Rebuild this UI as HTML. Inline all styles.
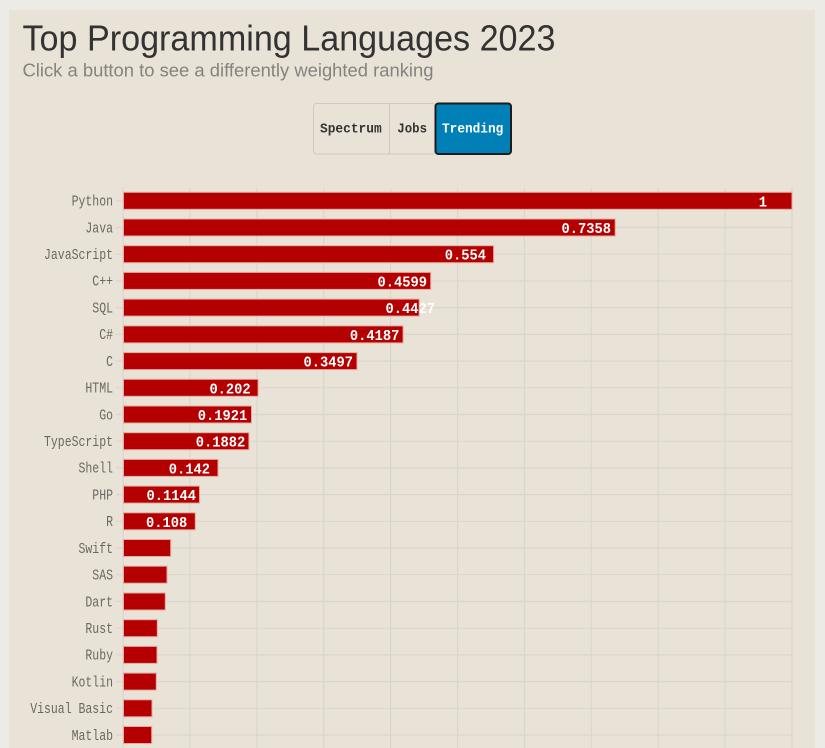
<!DOCTYPE html>
<html><head><meta charset="utf-8"><style>
html,body{margin:0;padding:0;background:#ecebe6;width:825px;height:748px;overflow:hidden}
svg{display:block}
</style></head><body>
<svg width="825" height="748" viewBox="0 0 825 748" xmlns="http://www.w3.org/2000/svg">
<rect x="0" y="0" width="825" height="748" fill="#ecebe6"/>
<rect x="9" y="10" width="806" height="740" fill="#e9e2d7"/>
<text x="22.5" y="50.5" font-family="Liberation Sans, sans-serif" font-size="36" fill="#333" textLength="533" lengthAdjust="spacingAndGlyphs">Top Programming Languages 2023</text>
<text x="22.5" y="76.5" font-family="Liberation Sans, sans-serif" font-size="18.5" fill="#858380" textLength="411" lengthAdjust="spacingAndGlyphs">Click a button to see a differently weighted ranking</text>
<rect x="313.5" y="103.5" width="122" height="50.5" rx="3" fill="#e9e2d7" stroke="#cfc8bc" stroke-width="1"/>
<line x1="389.5" y1="104" x2="389.5" y2="153.5" stroke="#cfc8bc" stroke-width="1"/>
<rect x="435.5" y="103.5" width="75.5" height="50.5" rx="3" fill="#0080b6" stroke="#1c1c1c" stroke-width="2"/>
<g font-family="Liberation Mono, monospace" font-weight="bold" font-size="13.5">
<text x="320" y="132.5" fill="#333" textLength="61.7" lengthAdjust="spacingAndGlyphs">Spectrum</text>
<text x="397.3" y="132.5" fill="#333" textLength="29.7" lengthAdjust="spacingAndGlyphs">Jobs</text>
<text x="442" y="132.5" fill="#fff" textLength="61.3" lengthAdjust="spacingAndGlyphs">Trending</text>
</g>
<g stroke="#dad6ce" stroke-width="1.2">
<line x1="123" y1="188" x2="123" y2="748"/>
<line x1="189.9" y1="188" x2="189.9" y2="748"/>
<line x1="256.8" y1="188" x2="256.8" y2="748"/>
<line x1="323.7" y1="188" x2="323.7" y2="748"/>
<line x1="390.6" y1="188" x2="390.6" y2="748"/>
<line x1="457.5" y1="188" x2="457.5" y2="748"/>
<line x1="524.4" y1="188" x2="524.4" y2="748"/>
<line x1="591.3" y1="188" x2="591.3" y2="748"/>
<line x1="658.2" y1="188" x2="658.2" y2="748"/>
<line x1="725.1" y1="188" x2="725.1" y2="748"/>
<line x1="792" y1="188" x2="792" y2="748"/>
<line x1="116" y1="200.8" x2="792" y2="200.8"/>
<line x1="116" y1="227.5" x2="792" y2="227.5"/>
<line x1="116" y1="254.2" x2="792" y2="254.2"/>
<line x1="116" y1="280.9" x2="792" y2="280.9"/>
<line x1="116" y1="307.6" x2="792" y2="307.6"/>
<line x1="116" y1="334.4" x2="792" y2="334.4"/>
<line x1="116" y1="361.1" x2="792" y2="361.1"/>
<line x1="116" y1="387.8" x2="792" y2="387.8"/>
<line x1="116" y1="414.5" x2="792" y2="414.5"/>
<line x1="116" y1="441.2" x2="792" y2="441.2"/>
<line x1="116" y1="467.9" x2="792" y2="467.9"/>
<line x1="116" y1="494.6" x2="792" y2="494.6"/>
<line x1="116" y1="521.3" x2="792" y2="521.3"/>
<line x1="116" y1="548.0" x2="792" y2="548.0"/>
<line x1="116" y1="574.7" x2="792" y2="574.7"/>
<line x1="116" y1="601.5" x2="792" y2="601.5"/>
<line x1="116" y1="628.2" x2="792" y2="628.2"/>
<line x1="116" y1="654.9" x2="792" y2="654.9"/>
<line x1="116" y1="681.6" x2="792" y2="681.6"/>
<line x1="116" y1="708.3" x2="792" y2="708.3"/>
<line x1="116" y1="735.0" x2="792" y2="735.0"/>
</g>
<g fill="#b40000" stroke="#e7a9a0" stroke-width="1">
<rect x="123.5" y="192.3" width="668.5" height="17"/>
<rect x="123.5" y="219.0" width="491.7" height="17"/>
<rect x="123.5" y="245.7" width="370.1" height="17"/>
<rect x="123.5" y="272.4" width="307.2" height="17"/>
<rect x="123.5" y="299.1" width="295.7" height="17"/>
<rect x="123.5" y="325.9" width="279.6" height="17"/>
<rect x="123.5" y="352.6" width="233.5" height="17"/>
<rect x="123.5" y="379.3" width="134.6" height="17"/>
<rect x="123.5" y="406.0" width="128.0" height="17"/>
<rect x="123.5" y="432.7" width="125.4" height="17"/>
<rect x="123.5" y="459.4" width="94.5" height="17"/>
<rect x="123.5" y="486.1" width="76.0" height="17"/>
<rect x="123.5" y="512.8" width="71.8" height="17"/>
<rect x="123.5" y="539.5" width="47.2" height="17"/>
<rect x="123.5" y="566.2" width="43.5" height="17"/>
<rect x="123.5" y="593.0" width="41.8" height="17"/>
<rect x="123.5" y="619.7" width="33.8" height="17"/>
<rect x="123.5" y="646.4" width="33.5" height="17"/>
<rect x="123.5" y="673.1" width="32.8" height="17"/>
<rect x="123.5" y="699.8" width="28.5" height="17"/>
<rect x="123.5" y="726.5" width="28.2" height="17"/>
</g>
<g font-family="Liberation Mono, monospace" font-size="14.5" fill="#6b6862" text-anchor="end">
<text x="113" y="205.6" textLength="41.4" lengthAdjust="spacingAndGlyphs">Python</text>
<text x="113" y="232.3" textLength="27.6" lengthAdjust="spacingAndGlyphs">Java</text>
<text x="113" y="259.0" textLength="69" lengthAdjust="spacingAndGlyphs">JavaScript</text>
<text x="113" y="285.7" textLength="20.7" lengthAdjust="spacingAndGlyphs">C++</text>
<text x="113" y="312.4" textLength="20.7" lengthAdjust="spacingAndGlyphs">SQL</text>
<text x="113" y="339.2" textLength="13.8" lengthAdjust="spacingAndGlyphs">C#</text>
<text x="113" y="365.9" textLength="6.9" lengthAdjust="spacingAndGlyphs">C</text>
<text x="113" y="392.6" textLength="27.6" lengthAdjust="spacingAndGlyphs">HTML</text>
<text x="113" y="419.3" textLength="13.8" lengthAdjust="spacingAndGlyphs">Go</text>
<text x="113" y="446.0" textLength="69" lengthAdjust="spacingAndGlyphs">TypeScript</text>
<text x="113" y="472.7" textLength="34.5" lengthAdjust="spacingAndGlyphs">Shell</text>
<text x="113" y="499.4" textLength="20.7" lengthAdjust="spacingAndGlyphs">PHP</text>
<text x="113" y="526.1" textLength="6.9" lengthAdjust="spacingAndGlyphs">R</text>
<text x="113" y="552.8" textLength="34.5" lengthAdjust="spacingAndGlyphs">Swift</text>
<text x="113" y="579.5" textLength="20.7" lengthAdjust="spacingAndGlyphs">SAS</text>
<text x="113" y="606.3" textLength="27.6" lengthAdjust="spacingAndGlyphs">Dart</text>
<text x="113" y="633.0" textLength="27.6" lengthAdjust="spacingAndGlyphs">Rust</text>
<text x="113" y="659.7" textLength="27.6" lengthAdjust="spacingAndGlyphs">Ruby</text>
<text x="113" y="686.4" textLength="41.4" lengthAdjust="spacingAndGlyphs">Kotlin</text>
<text x="113" y="713.1" textLength="82.8" lengthAdjust="spacingAndGlyphs">Visual Basic</text>
<text x="113" y="739.8" textLength="41.4" lengthAdjust="spacingAndGlyphs">Matlab</text>
</g>
<g font-family="Liberation Mono, monospace" font-size="15" font-weight="bold" fill="#fff" text-anchor="end">
<text x="767" y="206.3" textLength="8.25" lengthAdjust="spacingAndGlyphs">1</text>
<text x="611" y="233.0" textLength="49.5" lengthAdjust="spacingAndGlyphs">0.7358</text>
<text x="486" y="259.7" textLength="41.25" lengthAdjust="spacingAndGlyphs">0.554</text>
<text x="427" y="286.4" textLength="49.5" lengthAdjust="spacingAndGlyphs">0.4599</text>
<text x="435" y="313.1" textLength="49.5" lengthAdjust="spacingAndGlyphs">0.4427</text>
<text x="399.4" y="339.9" textLength="49.5" lengthAdjust="spacingAndGlyphs">0.4187</text>
<text x="353" y="366.6" textLength="49.5" lengthAdjust="spacingAndGlyphs">0.3497</text>
<text x="250.7" y="393.3" textLength="41.25" lengthAdjust="spacingAndGlyphs">0.202</text>
<text x="247.3" y="420.0" textLength="49.5" lengthAdjust="spacingAndGlyphs">0.1921</text>
<text x="245.3" y="446.7" textLength="49.5" lengthAdjust="spacingAndGlyphs">0.1882</text>
<text x="210" y="473.4" textLength="41.25" lengthAdjust="spacingAndGlyphs">0.142</text>
<text x="196" y="500.1" textLength="49.5" lengthAdjust="spacingAndGlyphs">0.1144</text>
<text x="187.3" y="526.8" textLength="41.25" lengthAdjust="spacingAndGlyphs">0.108</text>
</g>
</svg>
</body></html>
